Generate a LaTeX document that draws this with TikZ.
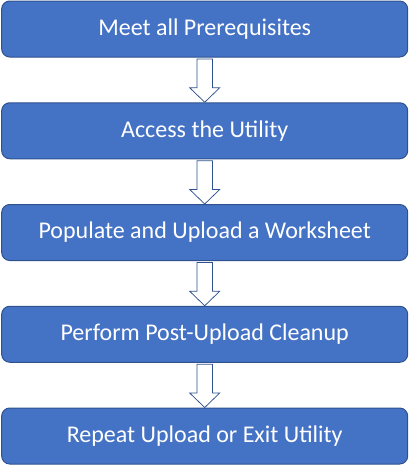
\documentclass[tikz,border=0pt]{standalone}
\usepackage{fontspec}
\setmainfont{Carlito}
\usepackage{tikz}
\usetikzlibrary{shapes,arrows,calc}
\definecolor{boxblue}{HTML}{4472C4}
\definecolor{boxline}{HTML}{2F528F}

\begin{document}
\begin{tikzpicture}[x=1pt, y=1pt, node distance = 101.75pt, auto]
        \tikzstyle{block} = [rectangle, draw=boxline, fill=boxblue, text=white, line width=1pt, minimum width=406pt, minimum height=56pt, rounded corners=8pt, font=\fontsize{24}{28}\selectfont]
        \tikzstyle{line} = [draw=boxline, fill=white, line width=0.75pt, to path={let \p1=(\tikztostart), \p2=(\tikztotarget) in
            (\x1-7.8pt,\y1-1.5pt) -- (\x1+7.8pt,\y1-1.5pt) -- (\x1+7.8pt,\y2+14.5pt) -- (\x1+15pt,\y2+14.5pt) -- (\x1,\y2)
            -- (\x1-15pt,\y2+14.5pt) -- (\x1-7.8pt,\y2+14.5pt) -- cycle}]

    \useasboundingbox (0,0) rectangle (409,-466);

    \node [block] (prerequisites) at (204.7,-29) {Meet all Prerequisites};
    \node [block, below of=prerequisites] (access) {Access the Utility};
    \node [block, below of=access] (upload) {Populate and Upload a Worksheet};
    \node [block, below of=upload] (cleanup) {Perform Post-Upload Cleanup};
    \node [block, below of=cleanup] (repeat) {Repeat Upload or Exit Utility};

    \path [line] (prerequisites.south) to (access.north);
    \path [line] (access.south) to (upload.north);
    \path [line] (upload.south) to (cleanup.north);
    \path [line] (cleanup.south) to (repeat.north);
    \end{tikzpicture}
\end{document}
